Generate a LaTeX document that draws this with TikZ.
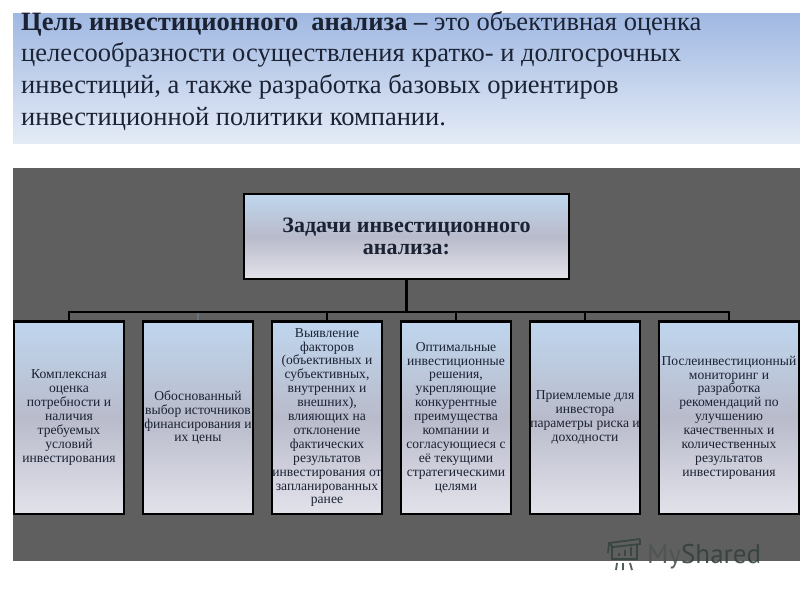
\documentclass[tikz,border=0pt]{standalone}
\usepackage{fontspec}
\setmainfont{Liberation Serif}
\newfontfamily\markfont{PT Sans}
\definecolor{inkc}{HTML}{1B2233}
\definecolor{panelc}{HTML}{5F5F5F}
\definecolor{stubc}{HTML}{66757C}
\definecolor{boxA}{HTML}{E2E2EA}
\definecolor{boxB}{HTML}{B9BBCB}
\definecolor{boxC}{HTML}{BFD6EE}
\definecolor{goalA}{HTML}{A0B8E2}
\definecolor{goalB}{HTML}{E4EBF6}
\definecolor{markc}{HTML}{34423C}
\definecolor{markd}{HTML}{4E5452}
\pgfdeclareverticalshading{boxgrad}{100bp}{
  color(0bp)=(boxA);
  color(25bp)=(boxA);
  color(50bp)=(boxB);
  color(75bp)=(boxC);
  color(100bp)=(boxC)}
\tikzset{
  taskbox/.style={draw=black,line width=2.5pt,shading=boxgrad,minimum height=192.5pt,
    inner sep=0pt,align=center,text=inkc,font=\fontsize{13.6}{13.9}\selectfont},
  headbox/.style={draw=black,line width=2.5pt,shading=boxgrad,minimum width=325pt,minimum height=85pt,
    inner sep=0pt,align=center,text=inkc,font=\fontsize{22}{22}\selectfont\bfseries},
  link/.style={draw=black,line width=2.5pt},
}
\begin{document}
\begin{tikzpicture}[x=1pt,y=-1pt]
\useasboundingbox (0,0) rectangle (800,600);
\fill[white] (0,0) rectangle (800,600);
\shade[top color=goalA,bottom color=goalB] (13,13) rectangle (800,143);
\node[anchor=north west,inner sep=0pt,align=left,text=inkc,font=\fontsize{26.5}{31.7}\selectfont] (goal) at (21,11)
 {\textbf{Цель инвестиционного\ \ анализа –} это объективная оценка\\
  целесообразности осуществления кратко- и долгосрочных\\
  инвестиций, а также разработка базовых ориентиров\\
  инвестиционной политики компании.};
\fill[panelc] (13,168) rectangle (800,561);
\node[headbox] (top) at (406.5,236.5) {Задачи инвестиционного\\анализа:};
\node[taskbox,minimum width=110pt] (b1) at (69,417.5) {Комплексная\\оценка\\потребности и\\наличия\\требуемых\\условий\\инвестирования};
\node[taskbox,minimum width=110pt] (b2) at (198,417.5) {Обоснованный\\выбор источников\\финансирования и\\их цены};
\node[taskbox,minimum width=110pt] (b3) at (327,417.5) {Выявление\\факторов\\(объективных и\\субъективных,\\внутренних и\\внешних),\\влияющих на\\отклонение\\фактических\\результатов\\инвестирования от\\запланированных\\ранее};
\node[taskbox,minimum width=110pt] (b4) at (456,417.5) {Оптимальные\\инвестиционные\\решения,\\укрепляющие\\конкурентные\\преимущества\\компании и\\согласующиеся с\\её текущими\\стратегическими\\целями};
\node[taskbox,minimum width=110pt] (b5) at (585,417.5) {Приемлемые для\\инвестора\\параметры риска и\\доходности};
\node[taskbox,minimum width=140pt] (b6) at (729,417.5) {Послеинвестиционный\\мониторинг и\\разработка\\рекомендаций по\\улучшению\\качественных и\\количественных\\результатов\\инвестирования};
\coordinate (bus) at (406.5,312);
\draw[stubc,line width=2.2pt] (b2.north) -- (198,312);
\draw[link] (top.south) -- (bus);
\draw[link] (bus) -| (b1.north);
\draw[link] (bus) -| (b3.north);
\draw[link] (bus) -| (b4.north);
\draw[link] (bus) -| (b5.north);
\draw[link] (bus) -| (b6.north);
% watermark
\begin{scope}[draw=markc,line width=1.8pt,opacity=.85]
\draw (612,546) -- (612,559) -- (637,559) -- (637,544);
\draw (608,553) -- (609,543) -- (640,539) (609,543) -- (613,547) -- (640,544) -- (640,539);
\draw (617,563) -- (616,570) (623,563) -- (623,570) (630,563) -- (632,570);
\draw[line width=2.4pt] (619,556) -- (619,553) (625,556) -- (625,550) (631,556) -- (631,547);
\end{scope}
\node[anchor=base west,inner sep=0pt,font=\markfont\fontsize{27}{27}\selectfont,text=markc,opacity=.9] (mark) at (647,563) {\textcolor{markd}{My}Shared};
\end{tikzpicture}
\end{document}
